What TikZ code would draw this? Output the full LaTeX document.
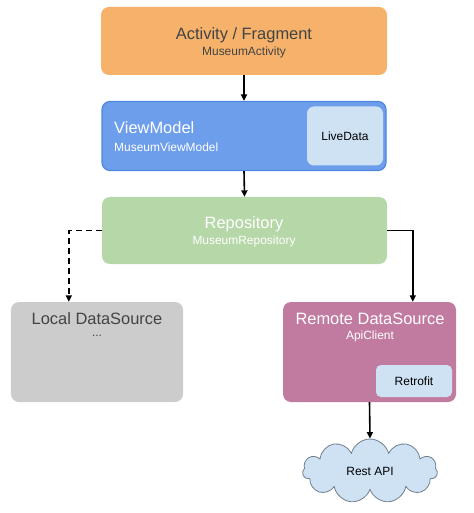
\documentclass[tikz,border=0pt]{standalone}
\usepackage{fontspec}
\setmainfont{Liberation Sans}
\usetikzlibrary{shapes.symbols,arrows.meta}
\definecolor{corange}{HTML}{F6B26B}
\definecolor{cblue}{HTML}{6D9EEB}
\definecolor{cblueb}{HTML}{4F86E0}
\definecolor{clight}{HTML}{CFE2F3}
\definecolor{cgreen}{HTML}{B6D7A8}
\definecolor{cgray}{HTML}{CCCCCC}
\definecolor{cmag}{HTML}{C27BA0}
\definecolor{ctext}{HTML}{434343}
\definecolor{cloudline}{HTML}{6F7E8C}
\begin{document}
\begin{tikzpicture}[x=1bp,y=-1bp,
  box/.style={rounded corners=8bp, inner sep=0pt, draw=none},
  inbox/.style={rounded corners=7bp, inner sep=0pt, fill=clight, font=\fontsize{12}{14}\selectfont, text=black},
  big/.style={font=\fontsize{16.5}{19}\selectfont, inner sep=0pt},
  small/.style={font=\fontsize{12}{14}\selectfont, inner sep=0pt},
  conn/.style={draw=black, line width=1.6bp, -{Triangle[length=6.5bp,width=6bp]}}
]
\useasboundingbox (0,0) rectangle (474,513);
% Activity / Fragment
\node[box, fill=corange, minimum width=286bp, minimum height=68bp] (act) at (244,41) {};
\node[big, text=ctext] (actt) at (244,35) {Activity / Fragment};
\node[small, text=ctext] (acts) at (244,52) {MuseumActivity};
% ViewModel
\node[box, fill=cblue, draw=cblueb, line width=1.2bp, minimum width=284bp, minimum height=69bp] (vm) at (244,136) {};
\node[big, text=white, anchor=west] (vmt) at (114,128) {ViewModel};
\node[small, text=white, anchor=west] (vms) at (114,147) {MuseumViewModel};
\node[inbox, minimum width=76bp, minimum height=59bp] (ld) at (345,136) {LiveData};
% Repository
\node[box, fill=cgreen, minimum width=285bp, minimum height=67bp] (repo) at (244.5,230.5) {};
\node[big, text=white] (repot) at (244,224) {Repository};
\node[small, text=white] (repos) at (244,241) {MuseumRepository};
% Local
\node[box, fill=cgray, minimum width=172bp, minimum height=100bp] (loc) at (97,352) {};
\node[big, text=ctext] (loct) at (97,319) {Local DataSource};
\node[small, text=ctext] (locs) at (97,336) {...};
% Remote
\node[box, fill=cmag, minimum width=173bp, minimum height=100bp] (rem) at (369.5,352) {};
\node[big, text=white] (remt) at (370,319) {Remote DataSource};
\node[small, text=white] (rems) at (370,336) {ApiClient};
\node[inbox, minimum width=76bp, minimum height=32bp, rounded corners=5bp] (retro) at (414,381) {Retrofit};
% Cloud
\node[cloud, cloud puffs=11, aspect=2.1, fill=clight, draw=cloudline, line width=0.8bp, minimum width=135bp, minimum height=64bp, inner sep=0pt, font=\fontsize{12}{14}\selectfont] (api) at (370,471) {Rest API};
% connectors
\draw[conn] (act.south) -- (vm.north);
\draw[conn] (vm.south) -- (repo.north);
\draw[conn, dash pattern=on 6bp off 4bp] (repo.west) -| ([xshift=58bp]loc.north west);
\draw[conn] (repo.east) -| ([xshift=130bp]rem.north west);
\draw[conn] (rem.south) -- (api.north);
\end{tikzpicture}
\end{document}
